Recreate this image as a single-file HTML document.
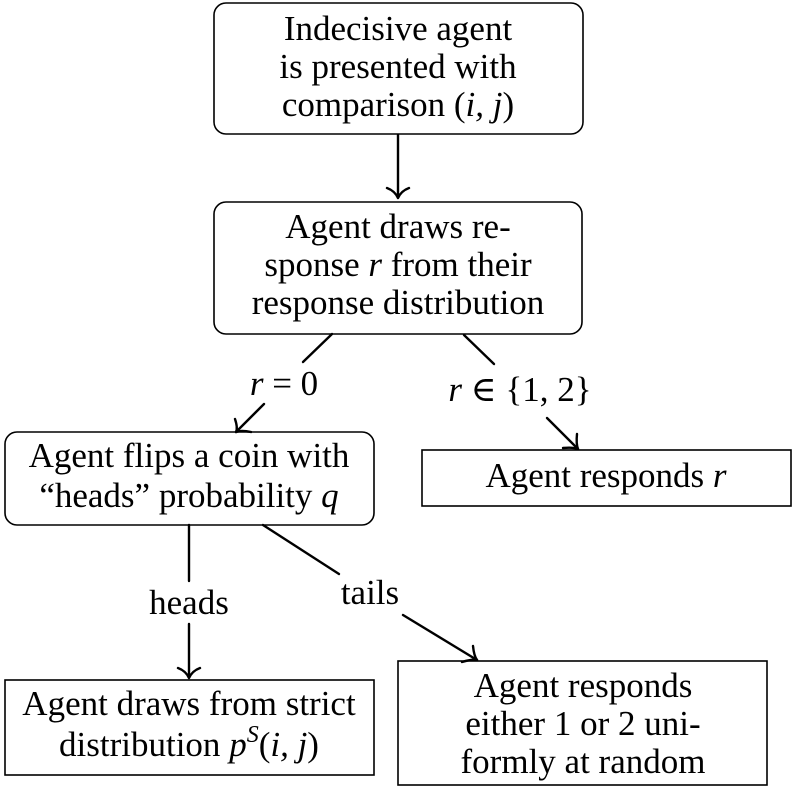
<!DOCTYPE html>
<html><head><style>
html,body{margin:0;padding:0;background:#fff;}
svg text{font-family:"Liberation Serif","DejaVu Serif",serif;font-size:35px;fill:#000;text-anchor:middle;}
.i{font-style:italic;}
</style></head><body>
<svg width="794" height="787" viewBox="0 0 794 787" xmlns="http://www.w3.org/2000/svg">
<g fill="none" stroke="#000" stroke-width="1.6">
<rect x="214" y="3" width="369" height="131" rx="12"/>
<rect x="214" y="202" width="368" height="132" rx="12"/>
<rect x="5" y="432" width="369" height="93" rx="12"/>
<rect x="422" y="450" width="369" height="56"/>
<rect x="5" y="680" width="369" height="95"/>
<rect x="398" y="661" width="369" height="124"/>
</g>
<g fill="none" stroke="#000" stroke-width="2.4" stroke-linecap="round" stroke-linejoin="round">
<line x1="398" y1="135" x2="398" y2="197"/>
<path d="M387 188 Q395 191 398 198 Q401 191 409 188"/>
<line x1="332" y1="334" x2="303" y2="362"/>
<line x1="264" y1="404" x2="236" y2="432"/>
<path d="M235 419 Q238 428 236 432 Q241 430 251 432"/>
<line x1="464" y1="335" x2="494" y2="364"/>
<line x1="547" y1="418" x2="578" y2="449"/>
<path d="M563 448 Q573 447 578 449 Q576 444 577 434"/>
<line x1="189" y1="525" x2="189" y2="581"/>
<line x1="189" y1="624" x2="189" y2="677"/>
<path d="M178 668 Q186 671 189 678 Q192 671 200 668"/>
<line x1="263" y1="525" x2="339" y2="574"/>
<line x1="403" y1="615" x2="477" y2="660"/>
<path d="M462 662 Q472 659 477 660 Q474 656 473 646"/>
</g>
<g font-family="Liberation Serif, DejaVu Serif, serif">
<text x="398" y="40">Indecisive agent</text>
<text x="398" y="78">is presented with</text>
<text x="398" y="116">comparison (<tspan class="i">i, j</tspan>)</text>
<text x="398" y="238">Agent draws re-</text>
<text x="398" y="276">sponse <tspan class="i">r</tspan> from their</text>
<text x="398" y="314">response distribution</text>
<text x="284" y="395"><tspan class="i">r</tspan> = 0</text>
<text x="520" y="401"><tspan class="i">r</tspan> ∈ {1, 2}</text>
<text x="189" y="467">Agent flips a coin with</text>
<text x="189" y="507">“heads” probability <tspan class="i">q</tspan></text>
<text x="606" y="487">Agent responds <tspan class="i">r</tspan></text>
<text x="189" y="614">heads</text>
<text x="370" y="604">tails</text>
<text x="189" y="715">Agent draws from strict</text>
<text x="189" y="756">distribution <tspan class="i">p</tspan><tspan class="i" font-size="24" dy="-14">S</tspan><tspan dy="14">(</tspan><tspan class="i">i, j</tspan>)</text>
<text x="583" y="697">Agent responds</text>
<text x="583" y="735">either 1 or 2 uni-</text>
<text x="583" y="773">formly at random</text>
</g>
</svg>
</body></html>
